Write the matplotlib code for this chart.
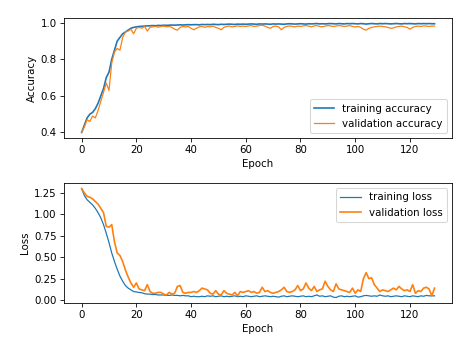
import matplotlib
matplotlib.use("Agg")
import matplotlib.pyplot as plt

train_acc = [
    0.40, 0.44, 0.48, 0.50, 0.51, 0.53, 0.56, 0.60, 0.64, 0.70, 0.73, 0.80, 0.85, 0.90, 0.92, 0.94, 0.95, 0.96, 0.97, 0.975,
    0.978, 0.980, 0.981, 0.982, 0.983, 0.984, 0.985, 0.984, 0.986, 0.985, 0.987, 0.986, 0.987, 0.988, 0.987, 0.988, 0.989, 0.988, 0.989, 0.990,
    0.989, 0.990, 0.990, 0.989, 0.991, 0.990, 0.991, 0.990, 0.992, 0.991, 0.990, 0.992, 0.991, 0.992, 0.993, 0.992, 0.991, 0.993, 0.992, 0.993,
    0.992, 0.993, 0.994, 0.993, 0.992, 0.994, 0.993, 0.994, 0.993, 0.992, 0.994, 0.993, 0.994, 0.993, 0.992, 0.994, 0.995, 0.994, 0.993, 0.994,
    0.995, 0.994, 0.993, 0.995, 0.994, 0.995, 0.996, 0.994, 0.995, 0.994, 0.995, 0.996, 0.995, 0.994, 0.996, 0.995, 0.994, 0.996, 0.995, 0.996,
    0.995, 0.994, 0.996, 0.995, 0.993, 0.995, 0.996, 0.995, 0.994, 0.996, 0.995, 0.996, 0.995, 0.994, 0.995, 0.996, 0.995, 0.994, 0.996, 0.995,
    0.996, 0.995, 0.994, 0.996, 0.995, 0.996, 0.995, 0.996, 0.995, 0.995,
]
val_acc = [
    0.40, 0.43, 0.47, 0.46, 0.49, 0.48, 0.52, 0.57, 0.62, 0.67, 0.63, 0.78, 0.84, 0.86, 0.85, 0.92, 0.95, 0.955, 0.965, 0.94,
    0.97, 0.975, 0.97, 0.98, 0.955, 0.975, 0.978, 0.98, 0.976, 0.98, 0.982, 0.978, 0.98, 0.975, 0.965, 0.96, 0.975, 0.98, 0.978, 0.98,
    0.97, 0.962, 0.97, 0.978, 0.98, 0.975, 0.98, 0.978, 0.982, 0.975, 0.97, 0.962, 0.975, 0.98, 0.982, 0.978, 0.98, 0.983, 0.98, 0.982,
    0.98, 0.983, 0.985, 0.98, 0.982, 0.985, 0.987, 0.982, 0.975, 0.97, 0.98, 0.982, 0.978, 0.962, 0.975, 0.98, 0.983, 0.98, 0.978, 0.982,
    0.98, 0.983, 0.985, 0.982, 0.978, 0.983, 0.985, 0.98, 0.978, 0.982, 0.985, 0.983, 0.98, 0.982, 0.985, 0.983, 0.98, 0.982, 0.985, 0.98,
    0.978, 0.98, 0.975, 0.965, 0.96, 0.97, 0.975, 0.978, 0.98, 0.982, 0.98, 0.978, 0.975, 0.97, 0.972, 0.978, 0.98, 0.982, 0.978, 0.975,
    0.965, 0.975, 0.98, 0.982, 0.98, 0.983, 0.982, 0.98, 0.982, 0.982,
]
train_loss = [
    1.30, 1.22, 1.17, 1.14, 1.11, 1.07, 1.02, 0.96, 0.88, 0.78, 0.67, 0.55, 0.45, 0.36, 0.28, 0.22, 0.17, 0.14, 0.12, 0.10,
    0.095, 0.09, 0.085, 0.075, 0.07, 0.07, 0.065, 0.065, 0.06, 0.06, 0.06, 0.055, 0.055, 0.06, 0.055, 0.055, 0.05, 0.055, 0.05, 0.05,
    0.04, 0.045, 0.04, 0.04, 0.045, 0.04, 0.05, 0.045, 0.05, 0.04, 0.045, 0.05, 0.04, 0.045, 0.04, 0.045, 0.05, 0.04, 0.045, 0.04,
    0.05, 0.045, 0.04, 0.045, 0.05, 0.04, 0.045, 0.05, 0.045, 0.04, 0.045, 0.04, 0.035, 0.045, 0.05, 0.04, 0.045, 0.05, 0.045, 0.04,
    0.045, 0.05, 0.04, 0.045, 0.04, 0.05, 0.06, 0.045, 0.05, 0.04, 0.045, 0.05, 0.035, 0.03, 0.045, 0.05, 0.04, 0.045, 0.04, 0.045,
    0.05, 0.035, 0.04, 0.05, 0.055, 0.05, 0.045, 0.05, 0.045, 0.06, 0.05, 0.045, 0.05, 0.04, 0.045, 0.05, 0.045, 0.04, 0.05, 0.045,
    0.04, 0.05, 0.045, 0.04, 0.05, 0.045, 0.055, 0.05, 0.05, 0.05,
]
val_loss = [
    1.30, 1.25, 1.21, 1.20, 1.18, 1.15, 1.12, 1.07, 1.02, 0.86, 0.85, 0.88, 0.68, 0.55, 0.52, 0.45, 0.35, 0.27, 0.20, 0.15,
    0.20, 0.13, 0.12, 0.11, 0.18, 0.10, 0.08, 0.08, 0.09, 0.09, 0.07, 0.06, 0.09, 0.07, 0.08, 0.16, 0.17, 0.09, 0.08, 0.09,
    0.09, 0.10, 0.09, 0.11, 0.14, 0.13, 0.12, 0.08, 0.07, 0.11, 0.07, 0.06, 0.11, 0.08, 0.07, 0.06, 0.09, 0.05, 0.10, 0.09,
    0.10, 0.11, 0.09, 0.10, 0.08, 0.09, 0.15, 0.10, 0.11, 0.09, 0.08, 0.09, 0.10, 0.12, 0.15, 0.10, 0.09, 0.10, 0.12, 0.17,
    0.11, 0.13, 0.20, 0.14, 0.11, 0.16, 0.10, 0.12, 0.13, 0.22, 0.16, 0.12, 0.10, 0.19, 0.13, 0.12, 0.11, 0.10, 0.09, 0.14,
    0.08, 0.12, 0.10, 0.25, 0.32, 0.25, 0.26, 0.18, 0.14, 0.10, 0.12, 0.11, 0.10, 0.12, 0.14, 0.12, 0.16, 0.13, 0.11, 0.12,
    0.10, 0.18, 0.08, 0.11, 0.10, 0.14, 0.15, 0.13, 0.05, 0.14,
]
epochs = list(range(len(train_acc)))


def main() -> None:
    fig = plt.figure(figsize=(474 / 74, 362 / 74), dpi=74)
    ax1 = fig.add_axes([0.135, 0.619, 0.819, 0.331])
    ax2 = fig.add_axes([0.135, 0.163, 0.819, 0.331])

    ax1.plot(epochs, train_acc, color="tab:blue", lw=1.6, label="training accuracy")
    ax1.plot(epochs, val_acc, color="tab:orange", lw=1.2, label="validation accuracy")
    ax1.set_xlabel("Epoch")
    ax1.set_ylabel("Accuracy")
    ax1.set_yticks([0.4, 0.6, 0.8, 1.0])
    ax1.legend(loc="lower right")

    ax2.plot(epochs, train_loss, color="tab:blue", lw=1.2, label="training loss")
    ax2.plot(epochs, val_loss, color="tab:orange", lw=1.6, label="validation loss")
    ax2.set_xlabel("Epoch")
    ax2.set_ylabel("Loss")
    ax2.set_yticks([0.0, 0.25, 0.5, 0.75, 1.0, 1.25])
    ax2.legend(loc="upper right")

    fig.savefig("out.png", dpi=74)


if __name__ == "__main__":
    main()
